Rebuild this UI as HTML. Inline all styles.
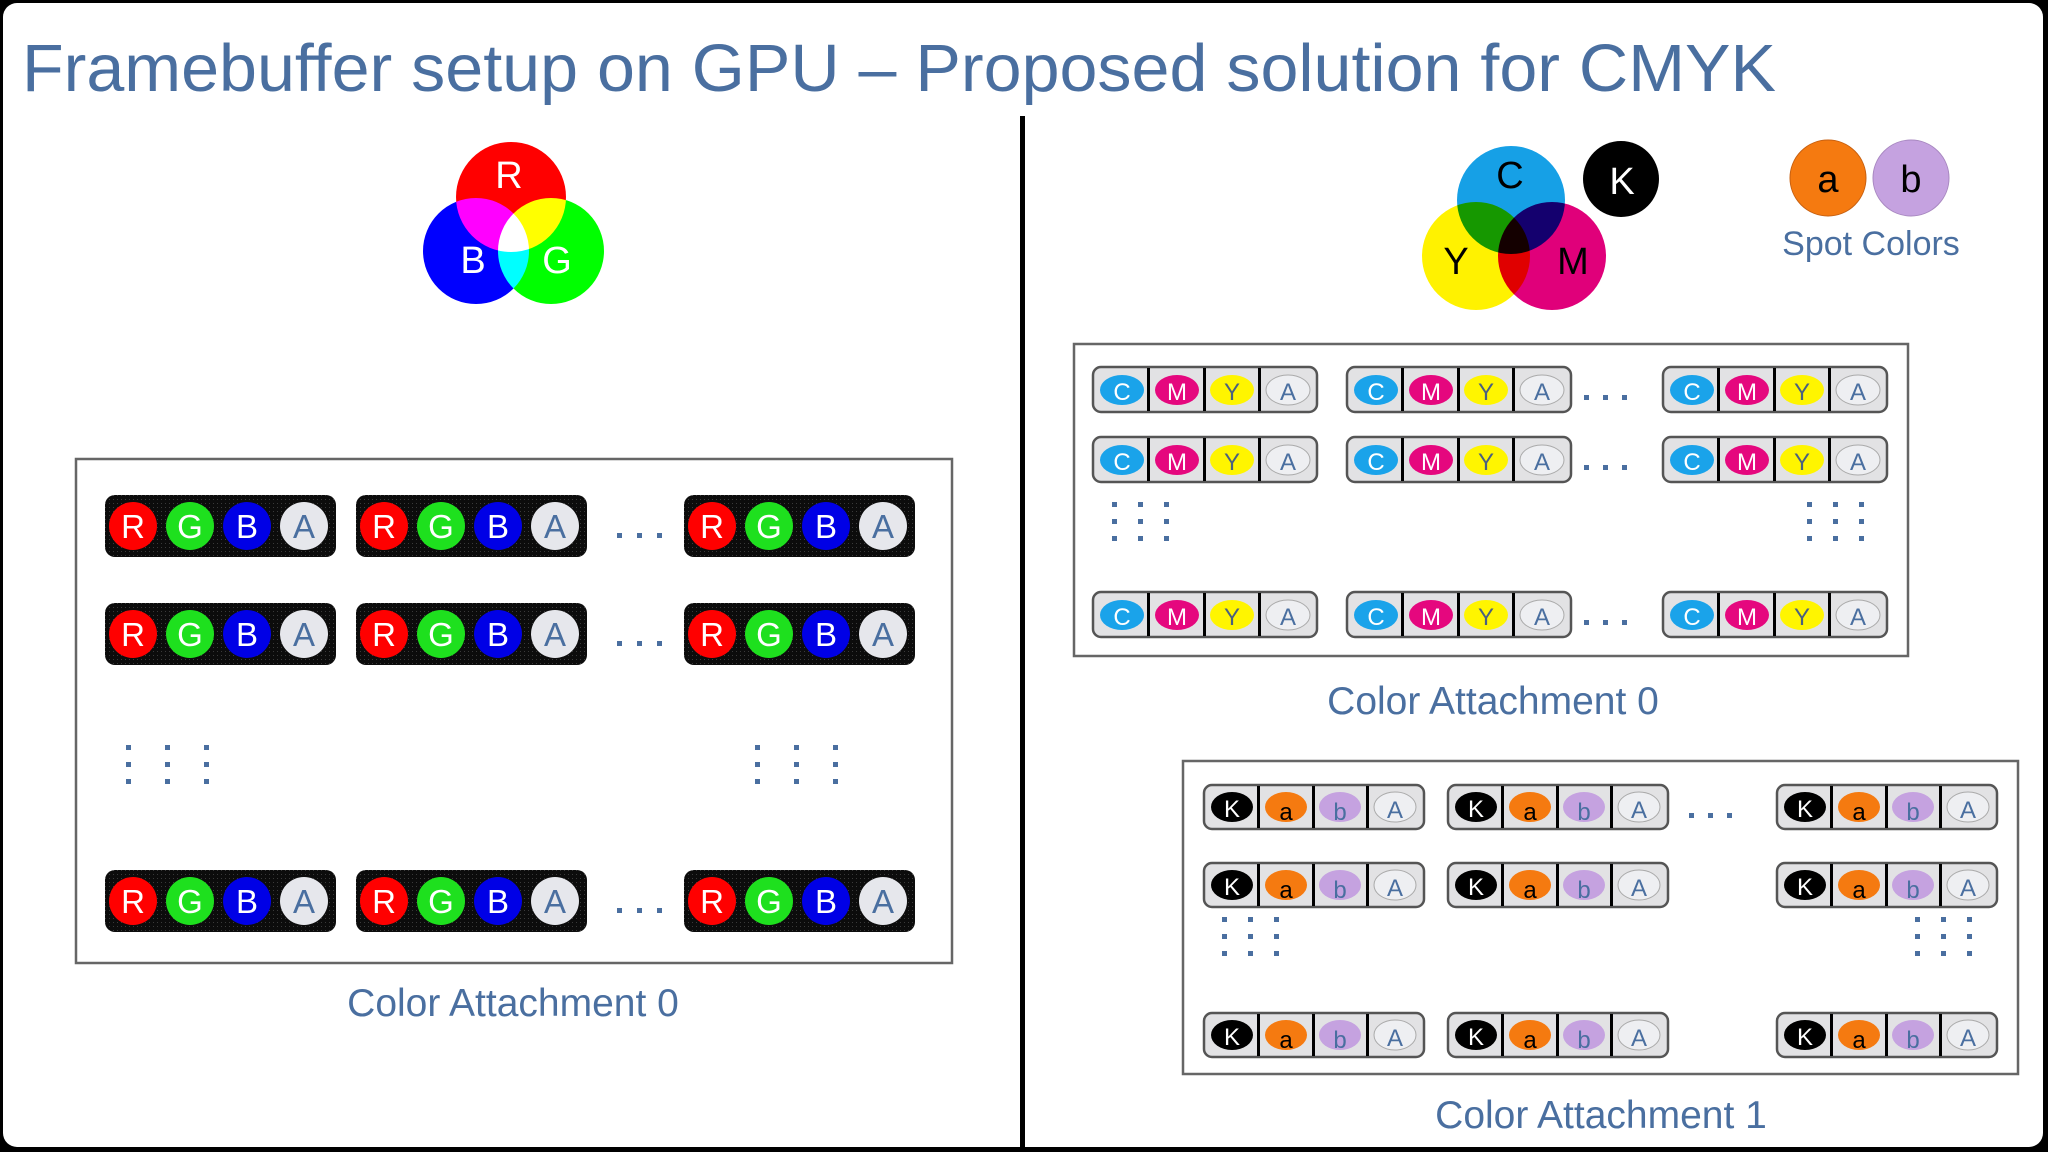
<!DOCTYPE html>
<html><head><meta charset="utf-8"><style>
html,body{margin:0;padding:0;background:#000;}
svg{display:block;}
text{font-family:"Liberation Sans",Arial,sans-serif;}
</style></head><body>
<svg width="2048" height="1152" viewBox="0 0 2048 1152" xmlns="http://www.w3.org/2000/svg">
<rect x="0" y="0" width="2048" height="1152" fill="#000"/>
<rect x="3" y="3" width="2040" height="1144" rx="14" fill="#fff"/>
<text x="22" y="91" font-size="67" fill="#4a6fa0" textLength="1754" lengthAdjust="spacingAndGlyphs">Framebuffer setup on GPU – Proposed solution for CMYK</text>
<rect x="1020" y="116" width="5" height="1036" fill="#000"/>

<!-- RGB venn -->
<g style="isolation:isolate">
<circle cx="511" cy="197" r="55" fill="#ff0000" style="mix-blend-mode:screen"/>
<circle cx="476" cy="251" r="53" fill="#0000ff" style="mix-blend-mode:screen"/>
<circle cx="551" cy="251" r="53" fill="#00ff00" style="mix-blend-mode:screen"/>
</g>
<g fill="#fff" font-size="38" text-anchor="middle">
<text x="509" y="188">R</text><text x="473" y="273">B</text><text x="557" y="273">G</text>
</g>

<!-- CMY venn -->
<g style="isolation:isolate">
<circle cx="1511" cy="200" r="54" fill="#16a0e6" style="mix-blend-mode:multiply"/>
<circle cx="1476" cy="256" r="54" fill="#fff200" style="mix-blend-mode:multiply"/>
<circle cx="1552" cy="256" r="54" fill="#e0007a" style="mix-blend-mode:multiply"/>
</g>
<g fill="#000" font-size="38" text-anchor="middle">
<text x="1510" y="188">C</text><text x="1456" y="274">Y</text><text x="1573" y="274">M</text>
</g>
<circle cx="1621" cy="179" r="38" fill="#000"/>
<text x="1622" y="194" font-size="38" fill="#fff" text-anchor="middle">K</text>
<circle cx="1828" cy="178" r="38" fill="#f57a10" stroke="#c76010" stroke-width="1"/>
<text x="1828" y="192" font-size="38" fill="#000" text-anchor="middle">a</text>
<circle cx="1911" cy="178" r="38" fill="#c5a2e0" stroke="#a888c0" stroke-width="1"/>
<text x="1911" y="192" font-size="38" fill="#000" text-anchor="middle">b</text>
<text x="1871" y="255" font-size="34" fill="#4a6fa0" text-anchor="middle">Spot Colors</text>

<!-- Left box -->
<rect x="76" y="459" width="876" height="504" fill="none" stroke="#666" stroke-width="2.5"/>
<defs>
<pattern id="dots" width="4" height="4" patternUnits="userSpaceOnUse"><rect width="4" height="4" fill="#0c0c0c"/><rect width="1" height="1" fill="#3a3a3a"/></pattern>
</defs>
<g font-size="33" text-anchor="middle">
<!-- RGB pill template repeated -->
<g transform="translate(105,495)"><rect width="231" height="62" rx="10" fill="url(#dots)"/><circle cx="28" cy="31" r="24" fill="#f00"/><circle cx="85" cy="31" r="24" fill="#1ee01e"/><circle cx="142" cy="31" r="24" fill="#0000e6"/><circle cx="199" cy="31" r="24" fill="#e6e7ec"/><text x="28" y="43" fill="#fff">R</text><text x="85" y="43" fill="#fff">G</text><text x="142" y="43" fill="#fff">B</text><text x="199" y="43" fill="#4a6fa0">A</text></g>
<g transform="translate(356,495)"><rect width="231" height="62" rx="10" fill="url(#dots)"/><circle cx="28" cy="31" r="24" fill="#f00"/><circle cx="85" cy="31" r="24" fill="#1ee01e"/><circle cx="142" cy="31" r="24" fill="#0000e6"/><circle cx="199" cy="31" r="24" fill="#e6e7ec"/><text x="28" y="43" fill="#fff">R</text><text x="85" y="43" fill="#fff">G</text><text x="142" y="43" fill="#fff">B</text><text x="199" y="43" fill="#4a6fa0">A</text></g>
<g transform="translate(684,495)"><rect width="231" height="62" rx="10" fill="url(#dots)"/><circle cx="28" cy="31" r="24" fill="#f00"/><circle cx="85" cy="31" r="24" fill="#1ee01e"/><circle cx="142" cy="31" r="24" fill="#0000e6"/><circle cx="199" cy="31" r="24" fill="#e6e7ec"/><text x="28" y="43" fill="#fff">R</text><text x="85" y="43" fill="#fff">G</text><text x="142" y="43" fill="#fff">B</text><text x="199" y="43" fill="#4a6fa0">A</text></g>

<g transform="translate(105,603)"><rect width="231" height="62" rx="10" fill="url(#dots)"/><circle cx="28" cy="31" r="24" fill="#f00"/><circle cx="85" cy="31" r="24" fill="#1ee01e"/><circle cx="142" cy="31" r="24" fill="#0000e6"/><circle cx="199" cy="31" r="24" fill="#e6e7ec"/><text x="28" y="43" fill="#fff">R</text><text x="85" y="43" fill="#fff">G</text><text x="142" y="43" fill="#fff">B</text><text x="199" y="43" fill="#4a6fa0">A</text></g>
<g transform="translate(356,603)"><rect width="231" height="62" rx="10" fill="url(#dots)"/><circle cx="28" cy="31" r="24" fill="#f00"/><circle cx="85" cy="31" r="24" fill="#1ee01e"/><circle cx="142" cy="31" r="24" fill="#0000e6"/><circle cx="199" cy="31" r="24" fill="#e6e7ec"/><text x="28" y="43" fill="#fff">R</text><text x="85" y="43" fill="#fff">G</text><text x="142" y="43" fill="#fff">B</text><text x="199" y="43" fill="#4a6fa0">A</text></g>
<g transform="translate(684,603)"><rect width="231" height="62" rx="10" fill="url(#dots)"/><circle cx="28" cy="31" r="24" fill="#f00"/><circle cx="85" cy="31" r="24" fill="#1ee01e"/><circle cx="142" cy="31" r="24" fill="#0000e6"/><circle cx="199" cy="31" r="24" fill="#e6e7ec"/><text x="28" y="43" fill="#fff">R</text><text x="85" y="43" fill="#fff">G</text><text x="142" y="43" fill="#fff">B</text><text x="199" y="43" fill="#4a6fa0">A</text></g>

<g transform="translate(105,870)"><rect width="231" height="62" rx="10" fill="url(#dots)"/><circle cx="28" cy="31" r="24" fill="#f00"/><circle cx="85" cy="31" r="24" fill="#1ee01e"/><circle cx="142" cy="31" r="24" fill="#0000e6"/><circle cx="199" cy="31" r="24" fill="#e6e7ec"/><text x="28" y="43" fill="#fff">R</text><text x="85" y="43" fill="#fff">G</text><text x="142" y="43" fill="#fff">B</text><text x="199" y="43" fill="#4a6fa0">A</text></g>
<g transform="translate(356,870)"><rect width="231" height="62" rx="10" fill="url(#dots)"/><circle cx="28" cy="31" r="24" fill="#f00"/><circle cx="85" cy="31" r="24" fill="#1ee01e"/><circle cx="142" cy="31" r="24" fill="#0000e6"/><circle cx="199" cy="31" r="24" fill="#e6e7ec"/><text x="28" y="43" fill="#fff">R</text><text x="85" y="43" fill="#fff">G</text><text x="142" y="43" fill="#fff">B</text><text x="199" y="43" fill="#4a6fa0">A</text></g>
<g transform="translate(684,870)"><rect width="231" height="62" rx="10" fill="url(#dots)"/><circle cx="28" cy="31" r="24" fill="#f00"/><circle cx="85" cy="31" r="24" fill="#1ee01e"/><circle cx="142" cy="31" r="24" fill="#0000e6"/><circle cx="199" cy="31" r="24" fill="#e6e7ec"/><text x="28" y="43" fill="#fff">R</text><text x="85" y="43" fill="#fff">G</text><text x="142" y="43" fill="#fff">B</text><text x="199" y="43" fill="#4a6fa0">A</text></g>
</g>
<g fill="#4a6fa0">
<rect x="617" y="533" width="5" height="5"/><rect x="637" y="533" width="5" height="5"/><rect x="657" y="533" width="5" height="5"/>
<rect x="617" y="641" width="5" height="5"/><rect x="637" y="641" width="5" height="5"/><rect x="657" y="641" width="5" height="5"/>
<rect x="617" y="908" width="5" height="5"/><rect x="637" y="908" width="5" height="5"/><rect x="657" y="908" width="5" height="5"/>
<rect x="126" y="745" width="5" height="5"/><rect x="165" y="745" width="5" height="5"/><rect x="204" y="745" width="5" height="5"/>
<rect x="126" y="762" width="5" height="5"/><rect x="165" y="762" width="5" height="5"/><rect x="204" y="762" width="5" height="5"/>
<rect x="126" y="779" width="5" height="5"/><rect x="165" y="779" width="5" height="5"/><rect x="204" y="779" width="5" height="5"/>
<rect x="755" y="745" width="5" height="5"/><rect x="794" y="745" width="5" height="5"/><rect x="833" y="745" width="5" height="5"/>
<rect x="755" y="762" width="5" height="5"/><rect x="794" y="762" width="5" height="5"/><rect x="833" y="762" width="5" height="5"/>
<rect x="755" y="779" width="5" height="5"/><rect x="794" y="779" width="5" height="5"/><rect x="833" y="779" width="5" height="5"/>
</g>
<text x="513" y="1016" font-size="39" fill="#4a6fa0" text-anchor="middle">Color Attachment 0</text>

<!-- Right box CA0 -->
<rect x="1074" y="344" width="834" height="312" fill="none" stroke="#666" stroke-width="2.5"/>
<g font-size="24" text-anchor="middle">
<g transform="translate(1093,367)"><rect width="224" height="45" rx="8" fill="#e2e2e4" stroke="#555" stroke-width="2.5"/><rect x="54" y="1" width="3" height="43" fill="#000"/><rect x="110" y="1" width="3" height="43" fill="#000"/><rect x="165" y="1" width="3" height="43" fill="#000"/><ellipse cx="29" cy="23" rx="22" ry="15" fill="#1aa3ea"/><ellipse cx="84" cy="23" rx="22" ry="15" fill="#e5077e"/><ellipse cx="139" cy="23" rx="22" ry="15" fill="#fff500"/><ellipse cx="195" cy="23" rx="22" ry="15" fill="#eeeff2" stroke="#aaa"/><text x="29" y="33" fill="#fff">C</text><text x="84" y="33" fill="#fff">M</text><text x="139" y="33" fill="#4a6080">Y</text><text x="195" y="33" fill="#4a6fa0">A</text></g>
<g transform="translate(1347,367)"><rect width="224" height="45" rx="8" fill="#e2e2e4" stroke="#555" stroke-width="2.5"/><rect x="54" y="1" width="3" height="43" fill="#000"/><rect x="110" y="1" width="3" height="43" fill="#000"/><rect x="165" y="1" width="3" height="43" fill="#000"/><ellipse cx="29" cy="23" rx="22" ry="15" fill="#1aa3ea"/><ellipse cx="84" cy="23" rx="22" ry="15" fill="#e5077e"/><ellipse cx="139" cy="23" rx="22" ry="15" fill="#fff500"/><ellipse cx="195" cy="23" rx="22" ry="15" fill="#eeeff2" stroke="#aaa"/><text x="29" y="33" fill="#fff">C</text><text x="84" y="33" fill="#fff">M</text><text x="139" y="33" fill="#4a6080">Y</text><text x="195" y="33" fill="#4a6fa0">A</text></g>
<g transform="translate(1663,367)"><rect width="224" height="45" rx="8" fill="#e2e2e4" stroke="#555" stroke-width="2.5"/><rect x="54" y="1" width="3" height="43" fill="#000"/><rect x="110" y="1" width="3" height="43" fill="#000"/><rect x="165" y="1" width="3" height="43" fill="#000"/><ellipse cx="29" cy="23" rx="22" ry="15" fill="#1aa3ea"/><ellipse cx="84" cy="23" rx="22" ry="15" fill="#e5077e"/><ellipse cx="139" cy="23" rx="22" ry="15" fill="#fff500"/><ellipse cx="195" cy="23" rx="22" ry="15" fill="#eeeff2" stroke="#aaa"/><text x="29" y="33" fill="#fff">C</text><text x="84" y="33" fill="#fff">M</text><text x="139" y="33" fill="#4a6080">Y</text><text x="195" y="33" fill="#4a6fa0">A</text></g>

<g transform="translate(1093,437)"><rect width="224" height="45" rx="8" fill="#e2e2e4" stroke="#555" stroke-width="2.5"/><rect x="54" y="1" width="3" height="43" fill="#000"/><rect x="110" y="1" width="3" height="43" fill="#000"/><rect x="165" y="1" width="3" height="43" fill="#000"/><ellipse cx="29" cy="23" rx="22" ry="15" fill="#1aa3ea"/><ellipse cx="84" cy="23" rx="22" ry="15" fill="#e5077e"/><ellipse cx="139" cy="23" rx="22" ry="15" fill="#fff500"/><ellipse cx="195" cy="23" rx="22" ry="15" fill="#eeeff2" stroke="#aaa"/><text x="29" y="33" fill="#fff">C</text><text x="84" y="33" fill="#fff">M</text><text x="139" y="33" fill="#4a6080">Y</text><text x="195" y="33" fill="#4a6fa0">A</text></g>
<g transform="translate(1347,437)"><rect width="224" height="45" rx="8" fill="#e2e2e4" stroke="#555" stroke-width="2.5"/><rect x="54" y="1" width="3" height="43" fill="#000"/><rect x="110" y="1" width="3" height="43" fill="#000"/><rect x="165" y="1" width="3" height="43" fill="#000"/><ellipse cx="29" cy="23" rx="22" ry="15" fill="#1aa3ea"/><ellipse cx="84" cy="23" rx="22" ry="15" fill="#e5077e"/><ellipse cx="139" cy="23" rx="22" ry="15" fill="#fff500"/><ellipse cx="195" cy="23" rx="22" ry="15" fill="#eeeff2" stroke="#aaa"/><text x="29" y="33" fill="#fff">C</text><text x="84" y="33" fill="#fff">M</text><text x="139" y="33" fill="#4a6080">Y</text><text x="195" y="33" fill="#4a6fa0">A</text></g>
<g transform="translate(1663,437)"><rect width="224" height="45" rx="8" fill="#e2e2e4" stroke="#555" stroke-width="2.5"/><rect x="54" y="1" width="3" height="43" fill="#000"/><rect x="110" y="1" width="3" height="43" fill="#000"/><rect x="165" y="1" width="3" height="43" fill="#000"/><ellipse cx="29" cy="23" rx="22" ry="15" fill="#1aa3ea"/><ellipse cx="84" cy="23" rx="22" ry="15" fill="#e5077e"/><ellipse cx="139" cy="23" rx="22" ry="15" fill="#fff500"/><ellipse cx="195" cy="23" rx="22" ry="15" fill="#eeeff2" stroke="#aaa"/><text x="29" y="33" fill="#fff">C</text><text x="84" y="33" fill="#fff">M</text><text x="139" y="33" fill="#4a6080">Y</text><text x="195" y="33" fill="#4a6fa0">A</text></g>

<g transform="translate(1093,592)"><rect width="224" height="45" rx="8" fill="#e2e2e4" stroke="#555" stroke-width="2.5"/><rect x="54" y="1" width="3" height="43" fill="#000"/><rect x="110" y="1" width="3" height="43" fill="#000"/><rect x="165" y="1" width="3" height="43" fill="#000"/><ellipse cx="29" cy="23" rx="22" ry="15" fill="#1aa3ea"/><ellipse cx="84" cy="23" rx="22" ry="15" fill="#e5077e"/><ellipse cx="139" cy="23" rx="22" ry="15" fill="#fff500"/><ellipse cx="195" cy="23" rx="22" ry="15" fill="#eeeff2" stroke="#aaa"/><text x="29" y="33" fill="#fff">C</text><text x="84" y="33" fill="#fff">M</text><text x="139" y="33" fill="#4a6080">Y</text><text x="195" y="33" fill="#4a6fa0">A</text></g>
<g transform="translate(1347,592)"><rect width="224" height="45" rx="8" fill="#e2e2e4" stroke="#555" stroke-width="2.5"/><rect x="54" y="1" width="3" height="43" fill="#000"/><rect x="110" y="1" width="3" height="43" fill="#000"/><rect x="165" y="1" width="3" height="43" fill="#000"/><ellipse cx="29" cy="23" rx="22" ry="15" fill="#1aa3ea"/><ellipse cx="84" cy="23" rx="22" ry="15" fill="#e5077e"/><ellipse cx="139" cy="23" rx="22" ry="15" fill="#fff500"/><ellipse cx="195" cy="23" rx="22" ry="15" fill="#eeeff2" stroke="#aaa"/><text x="29" y="33" fill="#fff">C</text><text x="84" y="33" fill="#fff">M</text><text x="139" y="33" fill="#4a6080">Y</text><text x="195" y="33" fill="#4a6fa0">A</text></g>
<g transform="translate(1663,592)"><rect width="224" height="45" rx="8" fill="#e2e2e4" stroke="#555" stroke-width="2.5"/><rect x="54" y="1" width="3" height="43" fill="#000"/><rect x="110" y="1" width="3" height="43" fill="#000"/><rect x="165" y="1" width="3" height="43" fill="#000"/><ellipse cx="29" cy="23" rx="22" ry="15" fill="#1aa3ea"/><ellipse cx="84" cy="23" rx="22" ry="15" fill="#e5077e"/><ellipse cx="139" cy="23" rx="22" ry="15" fill="#fff500"/><ellipse cx="195" cy="23" rx="22" ry="15" fill="#eeeff2" stroke="#aaa"/><text x="29" y="33" fill="#fff">C</text><text x="84" y="33" fill="#fff">M</text><text x="139" y="33" fill="#4a6080">Y</text><text x="195" y="33" fill="#4a6fa0">A</text></g>
</g>
<g fill="#4a6fa0">
<rect x="1584" y="395" width="5" height="5"/><rect x="1603" y="395" width="5" height="5"/><rect x="1622" y="395" width="5" height="5"/>
<rect x="1584" y="465" width="5" height="5"/><rect x="1603" y="465" width="5" height="5"/><rect x="1622" y="465" width="5" height="5"/>
<rect x="1584" y="620" width="5" height="5"/><rect x="1603" y="620" width="5" height="5"/><rect x="1622" y="620" width="5" height="5"/>
<rect x="1112" y="502" width="5" height="5"/><rect x="1138" y="502" width="5" height="5"/><rect x="1164" y="502" width="5" height="5"/>
<rect x="1112" y="519" width="5" height="5"/><rect x="1138" y="519" width="5" height="5"/><rect x="1164" y="519" width="5" height="5"/>
<rect x="1112" y="536" width="5" height="5"/><rect x="1138" y="536" width="5" height="5"/><rect x="1164" y="536" width="5" height="5"/>
<rect x="1807" y="502" width="5" height="5"/><rect x="1833" y="502" width="5" height="5"/><rect x="1859" y="502" width="5" height="5"/>
<rect x="1807" y="519" width="5" height="5"/><rect x="1833" y="519" width="5" height="5"/><rect x="1859" y="519" width="5" height="5"/>
<rect x="1807" y="536" width="5" height="5"/><rect x="1833" y="536" width="5" height="5"/><rect x="1859" y="536" width="5" height="5"/>
</g>
<text x="1493" y="714" font-size="39" fill="#4a6fa0" text-anchor="middle">Color Attachment 0</text>

<!-- Right box CA1 -->
<rect x="1183" y="761" width="835" height="313" fill="none" stroke="#666" stroke-width="2.5"/>
<g font-size="24" text-anchor="middle">
<g transform="translate(1204,785)"><rect width="220" height="44" rx="8" fill="#e2e2e4" stroke="#555" stroke-width="2.5"/><rect x="53" y="1" width="3" height="42" fill="#000"/><rect x="108" y="1" width="3" height="42" fill="#000"/><rect x="162" y="1" width="3" height="42" fill="#000"/><ellipse cx="28" cy="22" rx="21" ry="15" fill="#000"/><ellipse cx="82" cy="22" rx="21" ry="15" fill="#f57a10"/><ellipse cx="136" cy="22" rx="21" ry="15" fill="#c5a2e0"/><ellipse cx="191" cy="22" rx="21" ry="15" fill="#eeeff2" stroke="#aaa"/><text x="28" y="32" fill="#fff">K</text><text x="82" y="35" fill="#000">a</text><text x="136" y="35" fill="#4a6fa0">b</text><text x="191" y="33" fill="#4a6fa0">A</text></g>
<g transform="translate(1448,785)"><rect width="220" height="44" rx="8" fill="#e2e2e4" stroke="#555" stroke-width="2.5"/><rect x="53" y="1" width="3" height="42" fill="#000"/><rect x="108" y="1" width="3" height="42" fill="#000"/><rect x="162" y="1" width="3" height="42" fill="#000"/><ellipse cx="28" cy="22" rx="21" ry="15" fill="#000"/><ellipse cx="82" cy="22" rx="21" ry="15" fill="#f57a10"/><ellipse cx="136" cy="22" rx="21" ry="15" fill="#c5a2e0"/><ellipse cx="191" cy="22" rx="21" ry="15" fill="#eeeff2" stroke="#aaa"/><text x="28" y="32" fill="#fff">K</text><text x="82" y="35" fill="#000">a</text><text x="136" y="35" fill="#4a6fa0">b</text><text x="191" y="33" fill="#4a6fa0">A</text></g>
<g transform="translate(1777,785)"><rect width="220" height="44" rx="8" fill="#e2e2e4" stroke="#555" stroke-width="2.5"/><rect x="53" y="1" width="3" height="42" fill="#000"/><rect x="108" y="1" width="3" height="42" fill="#000"/><rect x="162" y="1" width="3" height="42" fill="#000"/><ellipse cx="28" cy="22" rx="21" ry="15" fill="#000"/><ellipse cx="82" cy="22" rx="21" ry="15" fill="#f57a10"/><ellipse cx="136" cy="22" rx="21" ry="15" fill="#c5a2e0"/><ellipse cx="191" cy="22" rx="21" ry="15" fill="#eeeff2" stroke="#aaa"/><text x="28" y="32" fill="#fff">K</text><text x="82" y="35" fill="#000">a</text><text x="136" y="35" fill="#4a6fa0">b</text><text x="191" y="33" fill="#4a6fa0">A</text></g>

<g transform="translate(1204,863)"><rect width="220" height="44" rx="8" fill="#e2e2e4" stroke="#555" stroke-width="2.5"/><rect x="53" y="1" width="3" height="42" fill="#000"/><rect x="108" y="1" width="3" height="42" fill="#000"/><rect x="162" y="1" width="3" height="42" fill="#000"/><ellipse cx="28" cy="22" rx="21" ry="15" fill="#000"/><ellipse cx="82" cy="22" rx="21" ry="15" fill="#f57a10"/><ellipse cx="136" cy="22" rx="21" ry="15" fill="#c5a2e0"/><ellipse cx="191" cy="22" rx="21" ry="15" fill="#eeeff2" stroke="#aaa"/><text x="28" y="32" fill="#fff">K</text><text x="82" y="35" fill="#000">a</text><text x="136" y="35" fill="#4a6fa0">b</text><text x="191" y="33" fill="#4a6fa0">A</text></g>
<g transform="translate(1448,863)"><rect width="220" height="44" rx="8" fill="#e2e2e4" stroke="#555" stroke-width="2.5"/><rect x="53" y="1" width="3" height="42" fill="#000"/><rect x="108" y="1" width="3" height="42" fill="#000"/><rect x="162" y="1" width="3" height="42" fill="#000"/><ellipse cx="28" cy="22" rx="21" ry="15" fill="#000"/><ellipse cx="82" cy="22" rx="21" ry="15" fill="#f57a10"/><ellipse cx="136" cy="22" rx="21" ry="15" fill="#c5a2e0"/><ellipse cx="191" cy="22" rx="21" ry="15" fill="#eeeff2" stroke="#aaa"/><text x="28" y="32" fill="#fff">K</text><text x="82" y="35" fill="#000">a</text><text x="136" y="35" fill="#4a6fa0">b</text><text x="191" y="33" fill="#4a6fa0">A</text></g>
<g transform="translate(1777,863)"><rect width="220" height="44" rx="8" fill="#e2e2e4" stroke="#555" stroke-width="2.5"/><rect x="53" y="1" width="3" height="42" fill="#000"/><rect x="108" y="1" width="3" height="42" fill="#000"/><rect x="162" y="1" width="3" height="42" fill="#000"/><ellipse cx="28" cy="22" rx="21" ry="15" fill="#000"/><ellipse cx="82" cy="22" rx="21" ry="15" fill="#f57a10"/><ellipse cx="136" cy="22" rx="21" ry="15" fill="#c5a2e0"/><ellipse cx="191" cy="22" rx="21" ry="15" fill="#eeeff2" stroke="#aaa"/><text x="28" y="32" fill="#fff">K</text><text x="82" y="35" fill="#000">a</text><text x="136" y="35" fill="#4a6fa0">b</text><text x="191" y="33" fill="#4a6fa0">A</text></g>

<g transform="translate(1204,1013)"><rect width="220" height="44" rx="8" fill="#e2e2e4" stroke="#555" stroke-width="2.5"/><rect x="53" y="1" width="3" height="42" fill="#000"/><rect x="108" y="1" width="3" height="42" fill="#000"/><rect x="162" y="1" width="3" height="42" fill="#000"/><ellipse cx="28" cy="22" rx="21" ry="15" fill="#000"/><ellipse cx="82" cy="22" rx="21" ry="15" fill="#f57a10"/><ellipse cx="136" cy="22" rx="21" ry="15" fill="#c5a2e0"/><ellipse cx="191" cy="22" rx="21" ry="15" fill="#eeeff2" stroke="#aaa"/><text x="28" y="32" fill="#fff">K</text><text x="82" y="35" fill="#000">a</text><text x="136" y="35" fill="#4a6fa0">b</text><text x="191" y="33" fill="#4a6fa0">A</text></g>
<g transform="translate(1448,1013)"><rect width="220" height="44" rx="8" fill="#e2e2e4" stroke="#555" stroke-width="2.5"/><rect x="53" y="1" width="3" height="42" fill="#000"/><rect x="108" y="1" width="3" height="42" fill="#000"/><rect x="162" y="1" width="3" height="42" fill="#000"/><ellipse cx="28" cy="22" rx="21" ry="15" fill="#000"/><ellipse cx="82" cy="22" rx="21" ry="15" fill="#f57a10"/><ellipse cx="136" cy="22" rx="21" ry="15" fill="#c5a2e0"/><ellipse cx="191" cy="22" rx="21" ry="15" fill="#eeeff2" stroke="#aaa"/><text x="28" y="32" fill="#fff">K</text><text x="82" y="35" fill="#000">a</text><text x="136" y="35" fill="#4a6fa0">b</text><text x="191" y="33" fill="#4a6fa0">A</text></g>
<g transform="translate(1777,1013)"><rect width="220" height="44" rx="8" fill="#e2e2e4" stroke="#555" stroke-width="2.5"/><rect x="53" y="1" width="3" height="42" fill="#000"/><rect x="108" y="1" width="3" height="42" fill="#000"/><rect x="162" y="1" width="3" height="42" fill="#000"/><ellipse cx="28" cy="22" rx="21" ry="15" fill="#000"/><ellipse cx="82" cy="22" rx="21" ry="15" fill="#f57a10"/><ellipse cx="136" cy="22" rx="21" ry="15" fill="#c5a2e0"/><ellipse cx="191" cy="22" rx="21" ry="15" fill="#eeeff2" stroke="#aaa"/><text x="28" y="32" fill="#fff">K</text><text x="82" y="35" fill="#000">a</text><text x="136" y="35" fill="#4a6fa0">b</text><text x="191" y="33" fill="#4a6fa0">A</text></g>
</g>
<g fill="#4a6fa0">
<rect x="1689" y="813" width="5" height="5"/><rect x="1708" y="813" width="5" height="5"/><rect x="1727" y="813" width="5" height="5"/>
<rect x="1222" y="917" width="5" height="5"/><rect x="1248" y="917" width="5" height="5"/><rect x="1274" y="917" width="5" height="5"/>
<rect x="1222" y="934" width="5" height="5"/><rect x="1248" y="934" width="5" height="5"/><rect x="1274" y="934" width="5" height="5"/>
<rect x="1222" y="951" width="5" height="5"/><rect x="1248" y="951" width="5" height="5"/><rect x="1274" y="951" width="5" height="5"/>
<rect x="1915" y="917" width="5" height="5"/><rect x="1941" y="917" width="5" height="5"/><rect x="1967" y="917" width="5" height="5"/>
<rect x="1915" y="934" width="5" height="5"/><rect x="1941" y="934" width="5" height="5"/><rect x="1967" y="934" width="5" height="5"/>
<rect x="1915" y="951" width="5" height="5"/><rect x="1941" y="951" width="5" height="5"/><rect x="1967" y="951" width="5" height="5"/>
</g>
<text x="1601" y="1128" font-size="39" fill="#4a6fa0" text-anchor="middle">Color Attachment 1</text>
</svg>
</body></html>
